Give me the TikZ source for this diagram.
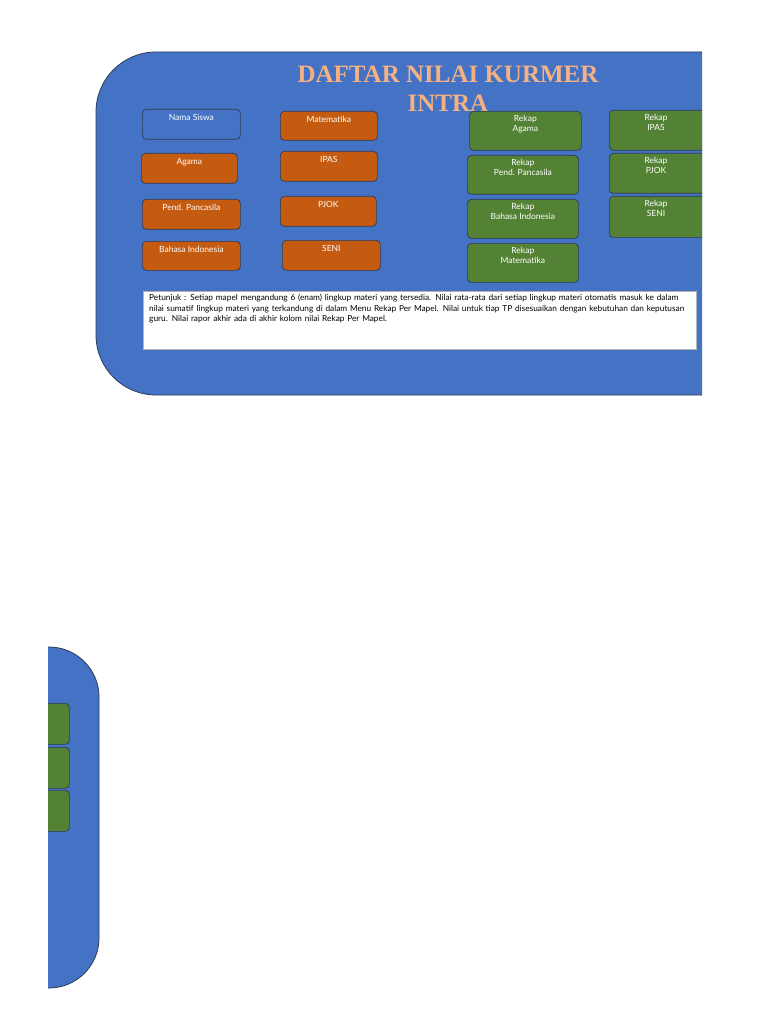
\documentclass[tikz,border=0pt]{standalone}
\usepackage{fontspec}
\setmainfont{Lato}
\newfontfamily\titlefont{Liberation Serif}
\definecolor{pblue}{HTML}{4472C4}
\definecolor{porange}{HTML}{C55A11}
\definecolor{pgreen}{HTML}{548235}
\definecolor{pedge}{HTML}{2F3B55}
\definecolor{ptitle}{HTML}{F4B183}
\begin{document}
\begin{tikzpicture}[x=1pt,y=1pt,
  bx/.style={draw=pedge,line width=0.7pt,rounded corners=4pt,anchor=north west,inner sep=0pt},
  ob/.style={bx,fill=porange},
  bb/.style={bx,fill=pblue},
  gb/.style={bx,fill=pgreen},
  tx/.style={text=white,font=\fontsize{8.5}{10}\selectfont,align=center,anchor=north,inner sep=0pt}]
\useasboundingbox (0,0) rectangle (768,-1024);
% top panel
\begin{scope}
\clip (0,0) rectangle (702,-1024);
\draw[fill=pblue,draw=pedge,line width=0.8pt,rounded corners=60pt] (96,-52) rectangle (820,-395);
\node[gb,minimum width=100,minimum height=40] (rb) at (609,-110) {};
\node[gb,minimum width=100,minimum height=40] (rc) at (609,-153) {};
\node[gb,minimum width=100,minimum height=41] (rd) at (609,-196) {};
\end{scope}
\node[text=ptitle,font=\titlefont\bfseries\fontsize{25}{29}\selectfont,align=center,anchor=north] (title) at (448,-62) {DAFTAR NILAI KURMER\\INTRA};
\node[bb,minimum width=98,minimum height=30] (b1) at (142,-109) {};
\node[ob,minimum width=97,minimum height=29] (b2) at (280,-111) {};
\node[ob,minimum width=96,minimum height=30] (b3) at (141,-153) {};
\node[ob,minimum width=97,minimum height=30] (b4) at (280,-151) {};
\node[ob,minimum width=98,minimum height=30] (b5) at (142,-199) {};
\node[ob,minimum width=96,minimum height=30] (b6) at (280,-196) {};
\node[ob,minimum width=98,minimum height=29] (b7) at (142,-241) {};
\node[ob,minimum width=98,minimum height=30] (b8) at (282,-240) {};
\node[gb,minimum width=112,minimum height=39] (g1) at (469,-111) {};
\node[gb,minimum width=111,minimum height=39] (g2) at (467,-155) {};
\node[gb,minimum width=111,minimum height=39] (g3) at (467,-199) {};
\node[gb,minimum width=111,minimum height=39] (g4) at (467,-243) {};
\node[tx] at ([yshift=-5]b1.north) {Nama Siswa};
\node[tx] at ([yshift=-5]b2.north) {Matematika};
\node[tx] at ([yshift=-5]b3.north) {Agama};
\node[tx] at ([yshift=-5]b4.north) {IPAS};
\node[tx] at ([yshift=-5]b5.north) {Pend. Pancasila};
\node[tx] at ([yshift=-5]b6.north) {PJOK};
\node[tx] at ([yshift=-5]b7.north) {Bahasa Indonesia};
\node[tx] at ([yshift=-5]b8.north) {SENI};
\node[tx] at ([yshift=-4]g1.north) {Rekap\\Agama};
\node[tx] at ([yshift=-4]g2.north) {Rekap\\Pend. Pancasila};
\node[tx] at ([yshift=-4]g3.north) {Rekap\\Bahasa Indonesia};
\node[tx] at ([yshift=-4]g4.north) {Rekap\\Matematika};
\node[tx] at (656,-114) {Rekap\\IPAS};
\node[tx] at (656,-157) {Rekap\\PJOK};
\node[tx] at (656,-200) {Rekap\\SENI};
\node[draw=gray!60,fill=white,anchor=north west,minimum width=553,minimum height=58,inner sep=0pt] (info) at (143,-291) {};
\node[anchor=north west,text width=545,inner sep=0pt,font=\fontsize{8.3}{10.4}\selectfont,align=left] at (149,-294) {Petunjuk : Setiap mapel mengandung 6 (enam) lingkup materi yang tersedia. Nilai rata-rata dari setiap lingkup materi otomatis masuk ke dalam nilai sumatif lingkup materi yang terkandung di dalam Menu Rekap Per Mapel. Nilai untuk tiap TP disesuaikan dengan kebutuhan dan keputusan guru. Nilai rapor akhir ada di akhir kolom nilai Rekap Per Mapel.};
% bottom panel
\begin{scope}
\clip (48,0) rectangle (768,-1024);
\draw[fill=pblue,draw=pedge,line width=0.8pt,rounded corners=50pt] (-100,-647) rectangle (99,-988);
\node[gb,minimum width=60,minimum height=41] (h1) at (9,-703) {};
\node[gb,minimum width=60,minimum height=41] (h2) at (9,-747) {};
\node[gb,minimum width=60,minimum height=41] (h3) at (9,-790) {};
\end{scope}
\end{tikzpicture}
\end{document}
